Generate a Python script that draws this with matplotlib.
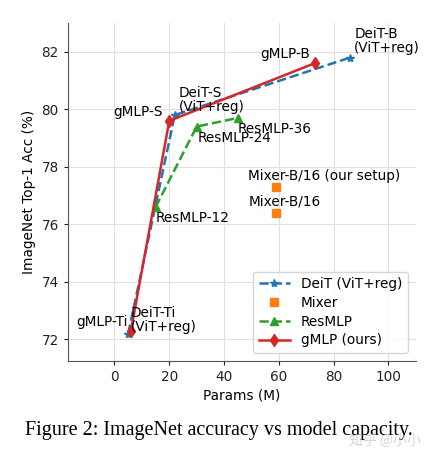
import matplotlib
matplotlib.use("Agg")
import matplotlib.pyplot as plt

deit_params = [5, 22, 86]
deit_acc = [72.2, 79.8, 81.8]
deit_names = ["DeiT-Ti\n(ViT+reg)", "DeiT-S\n(ViT+reg)", "DeiT-B\n(ViT+reg)"]

mixer_params = [59, 59]
mixer_acc = [76.4, 77.3]
mixer_names = ["Mixer-B/16", "Mixer-B/16 (our setup)"]

resmlp_params = [15, 30, 45]
resmlp_acc = [76.6, 79.4, 79.7]
resmlp_names = ["ResMLP-12", "ResMLP-24", "ResMLP-36"]

gmlp_params = [6, 20, 73]
gmlp_acc = [72.3, 79.6, 81.6]
gmlp_names = ["gMLP-Ti", "gMLP-S", "gMLP-B"]

FS = 9.8
plt.rcParams["font.size"] = FS

fig = plt.figure(figsize=(4.27, 4.61), dpi=100)
ax = fig.add_axes([0.159, 0.217, 0.815, 0.733])

ax.plot(deit_params, deit_acc, "--*", color="#1f77b4", lw=1.8, ms=6, label="DeiT (ViT+reg)")
ax.plot(mixer_params, mixer_acc, "s", color="#ff7f0e", ms=5.5, label="Mixer")
ax.plot(resmlp_params, resmlp_acc, "--^", color="#2ca02c", lw=1.8, ms=5.5, label="ResMLP")
ax.plot(gmlp_params, gmlp_acc, "-d", color="#d62728", lw=1.8, ms=6, label="gMLP (ours)")

# label offsets (points), alignment
deit_fmt = [((2, 0), "left", "bottom"), ((3, 1), "left", "bottom"), ((3, 2), "left", "bottom")]
mixer_fmt = [((-20, 3), "left", "bottom"), ((-20, 3), "left", "bottom")]
resmlp_fmt = [((0, -3), "left", "top"), ((1, -3), "left", "top"), ((0, -3), "left", "top")]
gmlp_fmt = [((-2, 1), "right", "bottom"), ((-5, 1), "right", "bottom"), ((-3, 2), "right", "bottom")]

for xs, ys, names, fmts in [(deit_params, deit_acc, deit_names, deit_fmt),
                            (mixer_params, mixer_acc, mixer_names, mixer_fmt),
                            (resmlp_params, resmlp_acc, resmlp_names, resmlp_fmt),
                            (gmlp_params, gmlp_acc, gmlp_names, gmlp_fmt)]:
    for x, y, n, (off, ha, va) in zip(xs, ys, names, fmts):
        ax.annotate(n, (x, y), xytext=off, textcoords="offset points",
                    ha=ha, va=va, fontsize=FS, linespacing=1.0)

ax.set_xlim(-17, 110)
ax.set_ylim(71.25, 83.0)
ax.set_xticks([0, 20, 40, 60, 80, 100])
ax.set_yticks([72, 74, 76, 78, 80, 82])
ax.grid(True, color="#e0e0e0", lw=0.8)
ax.set_axisbelow(True)
for s in ["top", "right"]:
    ax.spines[s].set_visible(False)
for s in ["left", "bottom"]:
    ax.spines[s].set_color("#555555")
ax.tick_params(colors="#222222", length=3)
ax.set_xlabel("Params (M)", fontsize=FS, labelpad=3)
ax.set_ylabel("ImageNet Top-1 Acc (%)", fontsize=FS)

ax.legend(loc="lower right", fontsize=FS, handlelength=2.3, borderpad=0.4,
          labelspacing=0.35, borderaxespad=0.6)

fig.text(0.513, 0.067, "Figure 2: ImageNet accuracy vs model capacity.",
         ha="center", va="center", family="Liberation Serif", fontsize=14.5)
fig.text(0.985, 0.043, "知乎 @小小", ha="right", va="center", color="#cccccc",
         family=["Noto Sans CJK SC", "DejaVu Sans"], fontsize=10, alpha=0.8)

fig.savefig("out.png", dpi=100)
